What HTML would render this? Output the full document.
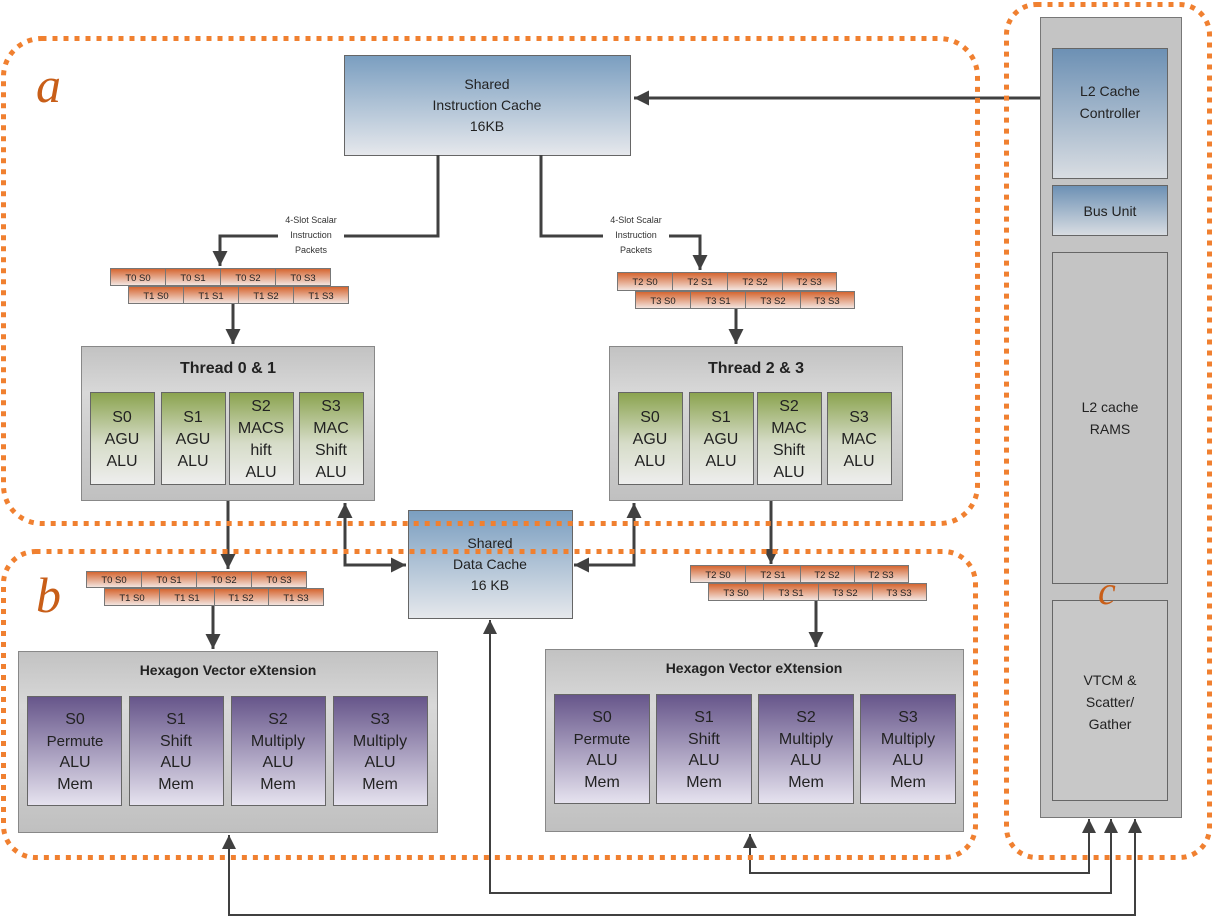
<!DOCTYPE html>
<html><head><meta charset="utf-8"><style>
html,body{margin:0;padding:0;background:#fff;width:1212px;height:919px;overflow:hidden}
svg{display:block;font-family:"Liberation Sans",sans-serif}
</style></head><body>
<svg width="1212" height="919" viewBox="0 0 1212 919" xmlns="http://www.w3.org/2000/svg">
<defs>
<linearGradient id="blue" x1="0" y1="0" x2="0" y2="1"><stop offset="0" stop-color="#7a9ec0"/><stop offset="1" stop-color="#e6e8ec"/></linearGradient>
<linearGradient id="blue2" x1="0" y1="0" x2="0" y2="1"><stop offset="0" stop-color="#6c90b4"/><stop offset="1" stop-color="#d9dde2"/></linearGradient>
<linearGradient id="org" x1="0" y1="0" x2="0" y2="1"><stop offset="0" stop-color="#d4622c"/><stop offset="1" stop-color="#f4e8e4"/></linearGradient>
<linearGradient id="grn" x1="0" y1="0" x2="0" y2="1"><stop offset="0" stop-color="#8aa34e"/><stop offset="0.55" stop-color="#d6dcc8"/><stop offset="1" stop-color="#eeeeee"/></linearGradient>
<linearGradient id="pur" x1="0" y1="0" x2="0" y2="1"><stop offset="0" stop-color="#66558a"/><stop offset="1" stop-color="#e6e3ef"/></linearGradient>
<linearGradient id="gry" x1="0" y1="0" x2="0" y2="1"><stop offset="0" stop-color="#c2c2c2"/><stop offset="0.3" stop-color="#d8d8d8"/><stop offset="1" stop-color="#c0c0c0"/></linearGradient>
<marker id="ah" viewBox="0 0 10 10" refX="10" refY="5" markerWidth="5" markerHeight="5" orient="auto-start-reverse" markerUnits="strokeWidth"><path d="M0,0 L10,5 L0,10 z" fill="#404040"/></marker>
<marker id="ah2" viewBox="0 0 10 10" refX="10" refY="5" markerWidth="11" markerHeight="7" orient="auto-start-reverse" markerUnits="strokeWidth"><path d="M0,0 L10,5 L0,10 z" fill="#404040"/></marker>
</defs>

<!-- instruction cache -->
<rect x="344.5" y="55.5" width="286" height="100" fill="url(#blue)" stroke="#666"/>
<text x="487" y="89" font-size="14" text-anchor="middle" fill="#222">Shared</text>
<text x="487" y="110" font-size="14" text-anchor="middle" fill="#222">Instruction Cache</text>
<text x="487" y="131" font-size="14" text-anchor="middle" fill="#222">16KB</text>

<g stroke="#404040" stroke-width="3" fill="none">
<line x1="1052" y1="98" x2="634" y2="98" marker-end="url(#ah)"/>
<polyline points="438,155 438,236 220,236 220,266" marker-end="url(#ah)"/>
<polyline points="541,155 541,236 700,236 700,270" marker-end="url(#ah)"/>
<line x1="233" y1="303" x2="233" y2="344" marker-end="url(#ah)"/>
<line x1="736" y1="308" x2="736" y2="344" marker-end="url(#ah)"/>
<line x1="228" y1="500" x2="228" y2="569" marker-end="url(#ah)"/>
<line x1="771" y1="500" x2="771" y2="564" marker-end="url(#ah)"/>
<polyline points="345,503 345,565 406,565" marker-start="url(#ah)" marker-end="url(#ah)"/>
<polyline points="634,503 634,565 574,565" marker-start="url(#ah)" marker-end="url(#ah)"/>
<line x1="213" y1="605" x2="213" y2="649" marker-end="url(#ah)"/>
<line x1="816" y1="600" x2="816" y2="647" marker-end="url(#ah)"/>
</g>
<g stroke="#404040" stroke-width="2" fill="none">
<polyline points="750,834 750,873 1089,873 1089,819" marker-start="url(#ah2)" marker-end="url(#ah2)"/>
<polyline points="490,620 490,893 1111,893 1111,819" marker-start="url(#ah2)" marker-end="url(#ah2)"/>
<polyline points="229,835 229,915 1135,915 1135,819" marker-start="url(#ah2)" marker-end="url(#ah2)"/>
</g>

<g font-size="9" text-anchor="middle" fill="#333">
<rect x="278" y="214" width="66" height="40" fill="#fff"/>
<text x="311" y="223">4-Slot Scalar</text><text x="311" y="238">Instruction</text><text x="311" y="253">Packets</text>
<rect x="603" y="214" width="66" height="40" fill="#fff"/>
<text x="636" y="223">4-Slot Scalar</text><text x="636" y="238">Instruction</text><text x="636" y="253">Packets</text>
</g>

<!-- packets -->
<g stroke="#777" fill="url(#org)" stroke-width="1">
<rect x="110.5" y="268.5" width="55" height="17"/><rect x="165.5" y="268.5" width="55" height="17"/><rect x="220.5" y="268.5" width="55" height="17"/><rect x="275.5" y="268.5" width="55" height="17"/>
<rect x="128.5" y="286.5" width="55" height="17"/><rect x="183.5" y="286.5" width="55" height="17"/><rect x="238.5" y="286.5" width="55" height="17"/><rect x="293.5" y="286.5" width="55" height="17"/>
<rect x="617.5" y="272.5" width="55" height="18"/><rect x="672.5" y="272.5" width="55" height="18"/><rect x="727.5" y="272.5" width="55" height="18"/><rect x="782.5" y="272.5" width="54" height="18"/>
<rect x="635.5" y="291.5" width="55" height="17"/><rect x="690.5" y="291.5" width="55" height="17"/><rect x="745.5" y="291.5" width="55" height="17"/><rect x="800.5" y="291.5" width="54" height="17"/>
<rect x="86.5" y="571.5" width="55" height="16"/><rect x="141.5" y="571.5" width="55" height="16"/><rect x="196.5" y="571.5" width="55" height="16"/><rect x="251.5" y="571.5" width="55" height="16"/>
<rect x="104.5" y="588.5" width="55" height="17"/><rect x="159.5" y="588.5" width="55" height="17"/><rect x="214.5" y="588.5" width="54" height="17"/><rect x="268.5" y="588.5" width="55" height="17"/>
<rect x="690.5" y="565.5" width="55" height="17"/><rect x="745.5" y="565.5" width="55" height="17"/><rect x="800.5" y="565.5" width="54" height="17"/><rect x="854.5" y="565.5" width="54" height="17"/>
<rect x="708.5" y="583.5" width="55" height="17"/><rect x="763.5" y="583.5" width="55" height="17"/><rect x="818.5" y="583.5" width="54" height="17"/><rect x="872.5" y="583.5" width="54" height="17"/>
</g>
<g font-size="9.5" text-anchor="middle" fill="#222">
<text x="138" y="281">T0 S0</text><text x="193" y="281">T0 S1</text><text x="248" y="281">T0 S2</text><text x="303" y="281">T0 S3</text>
<text x="156" y="299">T1 S0</text><text x="211" y="299">T1 S1</text><text x="266" y="299">T1 S2</text><text x="321" y="299">T1 S3</text>
<text x="645" y="285">T2 S0</text><text x="700" y="285">T2 S1</text><text x="755" y="285">T2 S2</text><text x="809" y="285">T2 S3</text>
<text x="663" y="304">T3 S0</text><text x="718" y="304">T3 S1</text><text x="773" y="304">T3 S2</text><text x="827" y="304">T3 S3</text>
<text x="114" y="583">T0 S0</text><text x="169" y="583">T0 S1</text><text x="224" y="583">T0 S2</text><text x="279" y="583">T0 S3</text>
<text x="132" y="601">T1 S0</text><text x="187" y="601">T1 S1</text><text x="241" y="601">T1 S2</text><text x="296" y="601">T1 S3</text>
<text x="718" y="578">T2 S0</text><text x="773" y="578">T2 S1</text><text x="827" y="578">T2 S2</text><text x="881" y="578">T2 S3</text>
<text x="736" y="596">T3 S0</text><text x="791" y="596">T3 S1</text><text x="845" y="596">T3 S2</text><text x="899" y="596">T3 S3</text>
</g>

<!-- thread boxes -->
<rect x="81.5" y="346.5" width="293" height="154" fill="url(#gry)" stroke="#888"/>
<rect x="609.5" y="346.5" width="293" height="154" fill="url(#gry)" stroke="#888"/>
<text x="228" y="373" font-size="16" font-weight="bold" text-anchor="middle" fill="#222">Thread 0 &amp; 1</text>
<text x="756" y="373" font-size="16" font-weight="bold" text-anchor="middle" fill="#222">Thread 2 &amp; 3</text>
<g fill="url(#grn)" stroke="#666">
<rect x="90.5" y="392.5" width="64" height="92"/><rect x="161.5" y="392.5" width="64" height="92"/><rect x="229.5" y="392.5" width="64" height="92"/><rect x="299.5" y="392.5" width="64" height="92"/>
<rect x="618.5" y="392.5" width="64" height="92"/><rect x="689.5" y="392.5" width="64" height="92"/><rect x="757.5" y="392.5" width="64" height="92"/><rect x="827.5" y="392.5" width="64" height="92"/>
</g>
<g font-size="16" text-anchor="middle" fill="#222">
<text x="122" y="422">S0</text><text x="122" y="444">AGU</text><text x="122" y="466">ALU</text>
<text x="193" y="422">S1</text><text x="193" y="444">AGU</text><text x="193" y="466">ALU</text>
<text x="261" y="411">S2</text><text x="261" y="433">MACS</text><text x="261" y="455">hift</text><text x="261" y="477">ALU</text>
<text x="331" y="411">S3</text><text x="331" y="433">MAC</text><text x="331" y="455">Shift</text><text x="331" y="477">ALU</text>
<text x="650" y="422">S0</text><text x="650" y="444">AGU</text><text x="650" y="466">ALU</text>
<text x="721" y="422">S1</text><text x="721" y="444">AGU</text><text x="721" y="466">ALU</text>
<text x="789" y="411">S2</text><text x="789" y="433">MAC</text><text x="789" y="455">Shift</text><text x="789" y="477">ALU</text>
<text x="859" y="422">S3</text><text x="859" y="444">MAC</text><text x="859" y="466">ALU</text>
</g>

<!-- data cache -->
<rect x="408.5" y="510.5" width="164" height="108" fill="url(#blue)" stroke="#666"/>
<text x="490" y="548" font-size="14" text-anchor="middle" fill="#222">Shared</text>
<text x="490" y="569" font-size="14" text-anchor="middle" fill="#222">Data Cache</text>
<text x="490" y="590" font-size="14" text-anchor="middle" fill="#222">16 KB</text>

<!-- HVX -->
<rect x="18.5" y="651.5" width="419" height="181" fill="url(#gry)" stroke="#888"/>
<rect x="545.5" y="649.5" width="418" height="182" fill="url(#gry)" stroke="#888"/>
<text x="228" y="675" font-size="14" font-weight="bold" text-anchor="middle" fill="#222">Hexagon Vector eXtension</text>
<text x="754" y="673" font-size="14" font-weight="bold" text-anchor="middle" fill="#222">Hexagon Vector eXtension</text>
<g fill="url(#pur)" stroke="#666">
<rect x="27.5" y="696.5" width="94" height="109"/><rect x="129.5" y="696.5" width="94" height="109"/><rect x="231.5" y="696.5" width="94" height="109"/><rect x="333.5" y="696.5" width="94" height="109"/>
<rect x="554.5" y="694.5" width="95" height="109"/><rect x="656.5" y="694.5" width="95" height="109"/><rect x="758.5" y="694.5" width="95" height="109"/><rect x="860.5" y="694.5" width="95" height="109"/>
</g>
<g text-anchor="middle" fill="#222" font-size="16">
<text x="75" y="724">S0</text><text x="75" y="746" font-size="15">Permute</text><text x="75" y="767">ALU</text><text x="75" y="789">Mem</text>
<text x="176" y="724">S1</text><text x="176" y="746">Shift</text><text x="176" y="767">ALU</text><text x="176" y="789">Mem</text>
<text x="278" y="724">S2</text><text x="278" y="746">Multiply</text><text x="278" y="767">ALU</text><text x="278" y="789">Mem</text>
<text x="380" y="724">S3</text><text x="380" y="746">Multiply</text><text x="380" y="767">ALU</text><text x="380" y="789">Mem</text>
<text x="602" y="722">S0</text><text x="602" y="744" font-size="15">Permute</text><text x="602" y="765">ALU</text><text x="602" y="787">Mem</text>
<text x="704" y="722">S1</text><text x="704" y="744">Shift</text><text x="704" y="765">ALU</text><text x="704" y="787">Mem</text>
<text x="806" y="722">S2</text><text x="806" y="744">Multiply</text><text x="806" y="765">ALU</text><text x="806" y="787">Mem</text>
<text x="908" y="722">S3</text><text x="908" y="744">Multiply</text><text x="908" y="765">ALU</text><text x="908" y="787">Mem</text>
</g>

<!-- right column -->
<rect x="1040.5" y="17.5" width="141" height="800" fill="#c4c4c4" stroke="#777"/>
<rect x="1052.5" y="48.5" width="115" height="130" fill="url(#blue2)" stroke="#666"/>
<text x="1110" y="96" font-size="14" text-anchor="middle" fill="#222">L2 Cache</text>
<text x="1110" y="118" font-size="14" text-anchor="middle" fill="#222">Controller</text>
<rect x="1052.5" y="185.5" width="115" height="50" fill="url(#blue2)" stroke="#666"/>
<text x="1110" y="216" font-size="14" text-anchor="middle" fill="#222">Bus Unit</text>
<rect x="1052.5" y="252.5" width="115" height="331" fill="#c4c4c4" stroke="#666"/>
<text x="1110" y="412" font-size="14" text-anchor="middle" fill="#222">L2 cache</text>
<text x="1110" y="434" font-size="14" text-anchor="middle" fill="#222">RAMS</text>
<rect x="1052.5" y="600.5" width="115" height="200" fill="#c8c8c8" stroke="#666"/>
<text x="1110" y="685" font-size="14" text-anchor="middle" fill="#222">VTCM &amp;</text>
<text x="1110" y="707" font-size="14" text-anchor="middle" fill="#222">Scatter/</text>
<text x="1110" y="729" font-size="14" text-anchor="middle" fill="#222">Gather</text>

<!-- dotted regions -->
<g fill="none" stroke="#f08030" stroke-width="5" stroke-dasharray="5 6">
<rect x="3.5" y="38.5" width="974" height="485" rx="38"/>
<rect x="3.5" y="551.5" width="972" height="306" rx="32"/>
<rect x="1006.5" y="4.5" width="203" height="853" rx="30"/>
</g>

<g font-family="Liberation Serif,serif" font-style="italic" fill="#c85e18">
<text x="36" y="102" font-size="50">a</text>
<text x="36" y="612" font-size="50">b</text>
<text x="1098" y="604" font-size="40">c</text>
</g>
</svg>
</body></html>
